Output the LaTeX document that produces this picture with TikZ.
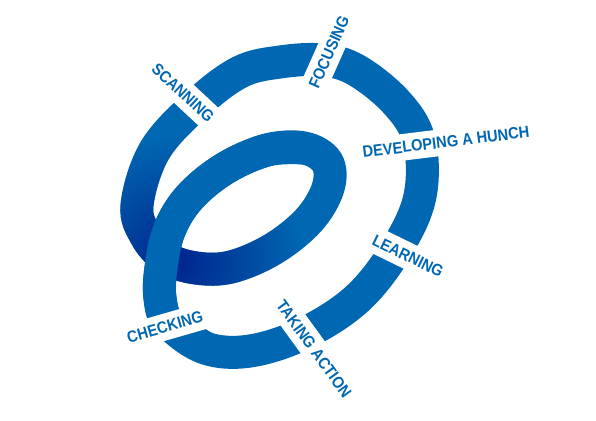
\documentclass[tikz,border=0pt]{standalone}
\usepackage{fontspec}
\setmainfont{Liberation Sans}
\newfontfamily\stagefont{Liberation Sans}[FakeStretch = 0.9]
\usetikzlibrary{fadings}
\definecolor{loopblue}{RGB}{0, 103, 178}
\definecolor{loopdark}{RGB}{0, 36, 142}
\tikzfading[name=underfade, inner color=transparent!0, outer color=transparent!100]

\begin{document}
\begin{tikzpicture}[x = 1pt, y = -1pt,
		band/.style = {draw = loopblue, line width = 33pt},
		stage/.style = {fill = white, text = loopblue, font = \stagefont\fontsize{16.3}{18}\selectfont\bfseries, inner xsep = 2pt, inner ysep = 7.5pt}]
			\useasboundingbox (0,0) rectangle (596,420);
			% the whole loop
			\draw[band] plot[smooth cycle, tension = 0.6] coordinates {
				(328,188) (327,162) (304,148) (267,150) (224,169) (189,198) (169,231) (161,268)
				(160,298) (169,323) (205,348) (250,351) (305,333) (358,298) (397,248) (420,196)
				(419,140) (396,102) (356,70) (322,60) (280,62) (240,72) (197,104) (155,150)
				(137,205) (146,236) (166,258) (196,268) (231,267) (273,249) (309,220)};
			% the part that goes underneath
			\draw[band, draw = loopdark, path fading = underfade, fit fading = false,
				fading transform = {shift = {(176,262)}, scale = 5}]
				plot[smooth, tension = 0.6] coordinates {
				(197,104) (155,150) (137,205) (146,236) (166,258) (196,268) (231,267) (273,249) (309,220) (328,188)};
			% the part that goes on top
			\draw[band] plot[smooth, tension = 0.6] coordinates {
				(304,148) (267,150) (224,169) (189,198) (169,231) (161,268) (160,298) (169,323) (205,348)};
			\node (scanning) at (183,93) [stage, rotate = -43] {SCANNING};
			\node (focusing) at (329,52) [stage, rotate = 66] {FOCUSING};
			\node (hunch) at (446,142) [stage, rotate = 7] {DEVELOPING A HUNCH};
			\node (learning) at (408,256) [stage, rotate = -26] {LEARNING};
			\node (action) at (314,349) [stage, rotate = -54] {TAKING ACTION};
			\node (checking) at (165,327) [stage, rotate = 16] {CHECKING};
			\end{tikzpicture}
\end{document}
